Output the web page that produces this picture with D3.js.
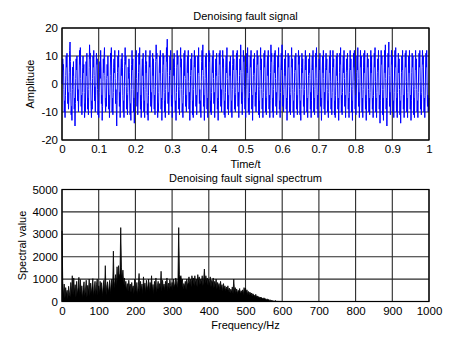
<!DOCTYPE html>
<html><head><meta charset="utf-8">
<script src="https://cdn.jsdelivr.net/npm/d3@7"></script>
<style>
html,body{margin:0;padding:0;background:#fff;}
svg{display:block;font-family:"Liberation Sans",Arial,sans-serif;}
</style></head>
<body><svg id="c" width="474" height="342"></svg>
<script>
// ---- data ----
const signalTitle = "Denoising fault signal";
const spectrumTitle = "Denoising fault signal spectrum";
const timeTicks = [0,0.1,0.2,0.3,0.4,0.5,0.6,0.7,0.8,0.9,1];
const timeTickLabels = ["0","0.1","0.2","0.3","0.4","0.5","0.6","0.7","0.8","0.9","1"];
const ampTicks = [-20,-10,0,10,20];
const ampTickLabels = ["-20","-10","0","10","20"];
const freqTicks = [0,100,200,300,400,500,600,700,800,900,1000];
const specTicks = [0,1000,2000,3000,4000,5000];
// amplitude samples, evenly spaced over t = 0..1 s
const signalValues = [
0,4,9,5,7,-2,-10,-6,-12,-4,3,10,6,11,1,-7,-3,-9,-5,4,12,15,8,-3,-11,-8,-13,-2,6,3,
8,-1,-9,-5,-15,-7,2,9,5,10,0,-6,-2,-10,-4,5,12,7,13,2,-8,-4,-11,-3,6,10,4,7,-3,-12,
-7,-10,0,8,3,11,-1,-9,-5,-11,-2,6,14,9,11,1,-8,-12,-6,-9,2,10,6,12,3,-6,-1,-10,-4,5,
11,7,9,-2,-11,-6,-12,-3,4,8,2,12,5,-7,-4,-13,-8,1,9,4,10,13,3,-6,-10,-5,-8,2,7,3,
10,0,-9,-4,-12,-6,3,11,8,13,1,-10,-5,-11,-3,6,9,4,12,2,-7,-2,-9,-15,-6,4,10,6,12,1,
-8,-3,-12,-5,5,9,3,11,6,-4,-10,-6,-12,-1,8,13,7,10,-1,-9,-4,-11,-3,6,2,9,4,-5,-11,-7,
-13,-2,7,12,5,9,-2,-10,-5,-14,-7,3,10,6,12,2,-8,-3,-11,-5,4,11,7,13,1,-9,-4,-12,-6,5,
9,3,11,-1,-10,-6,-12,-2,7,12,4,8,-3,-11,-7,-13,-4,5,10,6,12,0,-8,-3,-10,-5,6,11,3,9,
-2,-9,-4,-11,-1,8,14,9,11,0,-12,-7,-10,-3,5,10,4,12,1,-9,-5,-13,-6,4,11,7,10,-3,-10,-6,
-12,-2,6,13,8,16,4,-7,-3,-11,-5,3,10,5,12,0,-8,-4,-12,-6,4,9,3,11,6,-5,-10,-6,-13,-3,
6,12,7,10,-1,-9,-5,-11,-2,8,13,6,9,-2,-10,-7,-12,-4,5,11,3,12,2,-8,-4,-10,-5,6,10,4,
12,1,-9,-3,-13,-6,3,9,5,11,-1,-11,-6,-12,-2,7,12,6,10,0,-8,-4,-11,-5,5,10,4,13,3,-7,
-2,-10,-6,-12,1,8,12,5,14,3,-8,-4,-13,-7,2,10,6,11,0,-9,-5,-12,-3,6,12,8,11,-1,-10,-6,
-11,-3,5,10,4,12,2,-7,-3,-12,-5,4,9,3,11,1,-9,-5,-13,-6,3,11,7,12,0,-8,-2,-10,-4,5,
12,6,9,-2,-11,-6,-12,-3,6,10,4,13,2,-9,-4,-11,-5,4,8,3,10,0,-10,-6,-12,-2,7,12,5,9,
-1,-9,-4,-10,-3,6,11,5,12,1,-8,-3,-12,-5,3,9,5,14,4,-7,-3,-11,-6,4,12,8,10,-1,-9,-5,
-12,-2,6,11,4,13,2,-10,-5,-11,-3,5,10,6,12,0,-9,-4,-13,-6,3,9,4,11,1,-8,-3,-10,-4,6,
12,7,10,-1,-11,-6,-12,-2,7,13,5,9,-2,-9,-5,-12,-3,5,11,6,12,1,-10,-5,-11,-4,6,10,3,12,
0,-9,-4,-12,-6,4,14,8,11,-1,-10,-5,-12,-2,7,11,4,12,2,-8,-3,-11,-5,5,10,6,13,1,-9,-6,
-12,-3,6,11,5,14,3,-8,-4,-10,-2,4,9,3,12,0,-9,-5,-13,-6,5,11,6,10,-1,-10,-4,-11,-3,7,
13,6,9,-2,-10,-6,-12,-3,4,10,5,11,1,-9,-4,-11,-5,5,12,7,10,-2,-11,-6,-13,-2,6,11,4,9,
-1,-8,-4,-11,-2,7,12,5,10,0,-10,-5,-12,-4,3,9,4,11,2,-9,-3,-12,-6,6,10,5,12,-1,-10,-5,
-11,-2,5,11,6,13,2,-9,-4,-12,-3,4,9,5,11,0,-8,-5,-13,-6,5,10,4,12,2,-9,-3,-11,-5,6,
11,5,9,-2,-10,-6,-12,-3,5,10,4,12,1,-9,-5,-11,-3,6,12,6,9,-1,-11,-6,-12,-4,5,10,3,11,
1,-9,-5,-13,-6,4,11,7,13,0,-10,-4,-11,-3,6,10,4,12,2,-8,-4,-12,-5,4,9,5,11,0,-9,-5,
-12,-3,6,12,5,9,-1,-10,-6,-13,-2,5,11,6,12,1,-9,-4,-11,-5,4,10,5,13,2,-8,-3,-12,-6,5,
12,6,10,-1,-10,-5,-12,-2,6,11,4,12,0,-9,-4,-13,-6,5,11,6,9,-2,-10,-5,-11,-3,6,12,4,10,
-1,-9,-5,-12,-4,5,11,6,13,1,-10,-5,-12,-3,4,9,5,12,0,-9,-4,-14,-6,5,12,7,10,-2,-11,-5,
-13,-2,6,12,4,14,2,-9,-5,-15,-6,5,11,6,15,3,-8,-3,-11,-5,6,12,7,10,-1,-10,-6,-12,-3,5,
12,6,13,1,-10,-5,-12,-3,6,11,4,9,-2,-11,-6,-14,-4,4,10,5,12,0,-9,-4,-12,-5,5,11,6,12,
1,-10,-5,-12,-3,5,10,4,12,0,-9,-4,-13,-6,4,11,6,10,-1,-11,-5,-12,-2,6,12,5,9,-2,-10,-6,
-12,-3,5,11,6,12,1,-9,-4,-11,-3,6,12,7,10,-1,-10,-5,-12,-4,5,11,6,12,0,-8,-4,-10,-6,-5
];
// spectrum magnitude every 2 Hz from 0 Hz
const spectrumValues = [
3150,900,250,780,150,620,300,500,120,680,420,200,850,350,1150,280,1050,400,750,180,900,320,620,1080,250,
980,300,700,150,620,880,240,560,950,180,720,400,1000,260,820,350,680,1020,230,600,900,300,760,1000,280,
700,350,900,520,840,260,620,950,400,1600,300,700,880,420,600,950,350,820,1000,500,2250,600,900,1200,700,
1550,900,1600,1100,1250,3300,1500,1000,1400,800,1050,650,900,500,800,450,950,600,780,400,850,520,700,350,1000,
600,450,850,300,700,1250,400,900,550,780,350,1100,600,820,380,950,500,700,1000,420,850,560,1150,480,760,
350,900,600,1050,400,700,900,550,800,600,1350,450,950,600,780,500,900,650,1050,480,820,560,980,700,600,
850,500,1000,650,780,1050,900,600,1000,3300,1200,1050,1150,900,1000,550,800,650,900,520,1000,700,850,1100,750,
1000,650,1150,900,1050,700,1150,800,1000,650,1200,900,1100,750,1000,850,1150,700,1000,1450,800,1150,900,1050,700,
1000,750,1100,650,950,800,1050,600,900,700,1000,550,850,650,800,500,900,600,750,450,800,550,700,480,650,
500,700,450,600,380,550,420,650,350,1000,480,620,400,560,350,500,420,580,330,480,400,520,300,620,450,
600,380,520,300,450,280,420,320,380,250,350,300,280,220,320,200,250,180,220,160,200,150,180,120,160,
130,150,100,120,80,110,70,90,50,60,40,45,30,25,20,15,40,10,8,5,5,4,3,3,2
];
const freqStep = 2;

// ---- drawing ----
const svg = d3.select("#c");
const L = 62, R = 429;
const gridColor = "#2a2a2a";
const fs = "11px";

function panel(top, bottom, xDomain, yDomain, xTicks, xLabels, yTicks, yLabels) {
  const x = d3.scaleLinear().domain(xDomain).range([L, R]);
  const y = d3.scaleLinear().domain(yDomain).range([bottom, top]);
  const g = svg.append("g");
  xTicks.forEach(t => g.append("line").attr("x1", x(t)).attr("x2", x(t)).attr("y1", top).attr("y2", bottom)
    .attr("stroke", gridColor).attr("stroke-width", 1.1));
  yTicks.forEach(t => g.append("line").attr("x1", L).attr("x2", R).attr("y1", y(t)).attr("y2", y(t))
    .attr("stroke", gridColor).attr("stroke-width", 1.1));
  const xa = d3.axisBottom(x).tickValues(xTicks).tickFormat((d, i) => xLabels[i]).tickSize(0).tickPadding(5);
  const ya = d3.axisLeft(y).tickValues(yTicks).tickFormat((d, i) => yLabels[i]).tickSize(0).tickPadding(4);
  const gx = svg.append("g").attr("transform", `translate(0,${bottom})`).call(xa);
  const gy = svg.append("g").attr("transform", `translate(${L},0)`).call(ya);
  [gx, gy].forEach(a => { a.select(".domain").remove(); a.selectAll("text").attr("font-size", "11.5px").attr("fill", "#000").attr("font-family", "Liberation Sans, Arial, sans-serif"); });
  return {x, y, g};
}

// top panel
const T1 = 28, B1 = 140;
const p1 = panel(T1, B1, [0, 1], [-20, 20], timeTicks, timeTickLabels, ampTicks, ampTickLabels);
const n = signalValues.length;
const line1 = d3.line().x((d, i) => p1.x(i / (n - 1))).y(d => p1.y(d));
svg.append("path").datum(signalValues).attr("d", line1).attr("fill", "none")
  .attr("stroke", "#0000ff").attr("stroke-width", 1);
svg.append("rect").attr("x", L).attr("y", T1).attr("width", R - L).attr("height", B1 - T1)
  .attr("fill", "none").attr("stroke", "#000").attr("stroke-width", 1.2);

// bottom panel
const T2 = 189.5, B2 = 301.5;
const p2 = panel(T2, B2, [0, 1000], [0, 5000], freqTicks, freqTicks.map(String), specTicks, specTicks.map(String));
const area2 = d3.area().x((d, i) => p2.x(i * freqStep)).y0(p2.y(0)).y1(d => p2.y(d));
svg.append("path").datum(spectrumValues).attr("d", area2).attr("fill", "#000");
const line2 = d3.line().x((d, i) => p2.x(i * freqStep)).y(d => p2.y(d));
svg.append("path").datum(spectrumValues).attr("d", line2).attr("fill", "none")
  .attr("stroke", "#000").attr("stroke-width", 0.8);
svg.append("rect").attr("x", L).attr("y", T2).attr("width", R - L).attr("height", B2 - T2)
  .attr("fill", "none").attr("stroke", "#000").attr("stroke-width", 1.2);

// texts
function txt(x, y, s, rot) {
  const t = svg.append("text").attr("x", x).attr("y", y).attr("text-anchor", "middle")
    .attr("font-size", fs).attr("fill", "#000").text(s);
  if (rot) t.attr("transform", `rotate(-90,${x},${y})`);
}
txt((L + R) / 2, 19.5, signalTitle);
txt((L + R) / 2, 168, "Time/t");
txt((L + R) / 2, 182, spectrumTitle);
txt((L + R) / 2, 329, "Frequency/Hz");
txt(34, 84, "Amplitude", true);
txt(26, 245.5, "Spectral value", true);
</script></body></html>
